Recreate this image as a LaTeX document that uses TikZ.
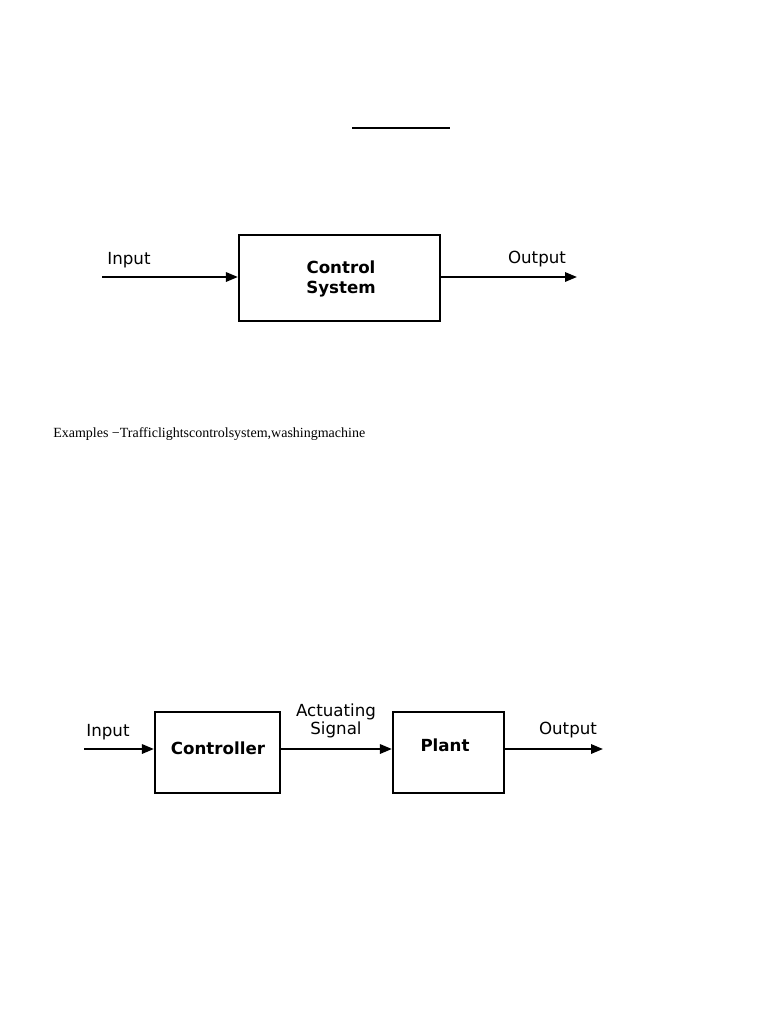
\documentclass[tikz,border=0pt]{standalone}
\usepackage{fontspec}
\setmainfont{DejaVu Sans}
\newfontfamily\seriffont{Liberation Serif}
\usetikzlibrary{arrows.meta}
\begin{document}
\begin{tikzpicture}[x=0.75pt,y=-0.75pt,
  blk/.style={draw,line width=1.6pt,inner sep=0pt},
  sig/.style={line width=1.6pt,-{Triangle[length=9pt,width=7pt]}},
  lbl/.style={font=\fontsize{12.5}{14}\selectfont,align=center,inner sep=0pt},
  btxt/.style={font=\fontsize{12.5}{14.5}\selectfont\bfseries,align=center,inner sep=0pt}]
\useasboundingbox (0,0) rectangle (768,1024);
\coordinate (l1) at (352,128); \coordinate (l2) at (450,128);
\draw[line width=1pt] (l1) -- (l2);
% top diagram
\node[blk,minimum width=201*0.75pt,minimum height=86*0.75pt] (cs) at (339.5,278) {};
\node[btxt] (cst) at (341,279) {Control\\System};
\coordinate (in1) at (102,277);
\coordinate (out1) at (577,277);
\draw[sig] (in1) -- (cs.west|-in1);
\draw[sig] (cs.east|-out1) -- (out1);
\node[lbl] (inl1) at (129,260) {Input};
\node[lbl] (outl1) at (537,259) {Output};
\node[anchor=west,inner sep=0pt,font=\seriffont\fontsize{10.5}{12}\selectfont] (ex) at (53,434) {Examples −Trafficlightscontrolsystem,washingmachine};
% bottom diagram
\node[blk,minimum width=125*0.75pt,minimum height=81*0.75pt] (ctl) at (217.5,752.5) {};
\node[btxt] (ctlt) at (218,748) {Controller};
\node[blk,minimum width=111*0.75pt,minimum height=81*0.75pt] (pl) at (448.5,752.5) {};
\node[btxt] (plt) at (445,745) {Plant};
\coordinate (in2) at (84,749);
\coordinate (out2) at (603,749);
\draw[sig] (in2) -- (ctl.west|-in2);
\draw[sig] (ctl.east|-in2) -- (pl.west|-in2);
\draw[sig] (pl.east|-out2) -- (out2);
\node[lbl] (inl2) at (108,732) {Input};
\node[lbl] (act) at (336,721) {Actuating\\Signal};
\node[lbl] (outl2) at (568,730) {Output};
\end{tikzpicture}
\end{document}
